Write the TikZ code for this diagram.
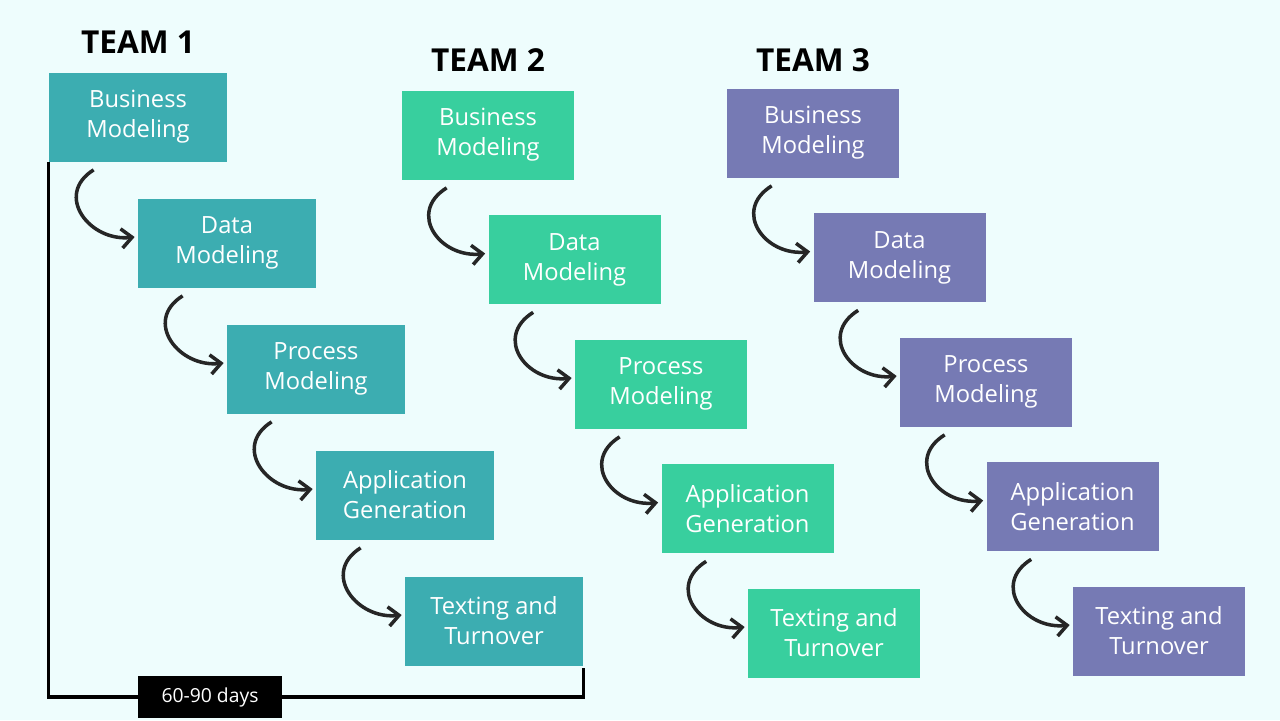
\documentclass[tikz,border=0pt]{standalone}
\usepackage{fontspec}
\setmainfont{Open Sans}
\usetikzlibrary{positioning,arrows.meta,calc}
\definecolor{bgcol}{HTML}{EEFDFD}
\definecolor{teamA}{HTML}{3CADB1}
\definecolor{teamB}{HTML}{38CF9E}
\definecolor{teamC}{HTML}{767AB4}
\newlength{\xu}\setlength{\xu}{0.02cm}
\tikzset{
    stage/.style = {
        shape=rectangle,
        minimum height=89\xu,
        minimum width=174\xu,
        text=white,
        align=center,
        font=\fontsize{13.5}{17}\selectfont,
        inner sep=0pt
    },
    title/.style = {
        font=\fontsize{18}{20}\selectfont\bfseries
    },
    flow/.style = {
        draw=black!85,
        line width=2pt,
        -{Straight Barb[length=6pt,width=11pt,line width=2pt]}
    },
    tag/.style = {
        fill=black,
        text=white,
        minimum width=144\xu,
        minimum height=42\xu,
        inner sep=0pt,
        font=\fontsize{11}{13}\selectfont
    },
}
\begin{document}
\begin{tikzpicture}[x=0.02cm,y=-0.02cm]
    \useasboundingbox[fill=bgcol] (0,0) rectangle (1280,720);

    % team, x, y, title y, dx, dy, width, colour
    \foreach \t/\x/\y/\ty/\dx/\dy/\w/\c in {1/138/117/42/89/126/178/teamA, 2/488/135/60/86.5/124.5/172/teamB, 3/813/133/60/86.5/124.5/172/teamC} {
        \node[title] (title\t) at (\x,\ty) {TEAM \t};
        \foreach \s/\lbl in {1/Business\\Modeling, 2/Data\\Modeling, 3/Process\\Modeling, 4/Application\\Generation, 5/Texting and\\Turnover} {
            \node[stage, fill=\c, minimum width=\w\xu] (b\t\s) at (\x+\dx*\s-\dx,\y+\dy*\s-\dy) {\lbl};
        }
        \foreach \s [evaluate=\s as \n using int(\s+1)] in {1,...,4} {
            \draw[flow] ($(b\t\s.south west)+(45,8)$) .. controls +(-40,25) and +(-45,5) .. ($(b\t\n.west)+(-3,-6)$);
        }
    }

    % time bracket
    \node[tag] (days) at (210,697) {};
    \draw[line width=2pt] (b11.south west) |- (b15.south east |- days) -- ($(b15.south east)+(0,2)$);
    \node[tag] at (days) {60-90 days};
\end{tikzpicture}
\end{document}
